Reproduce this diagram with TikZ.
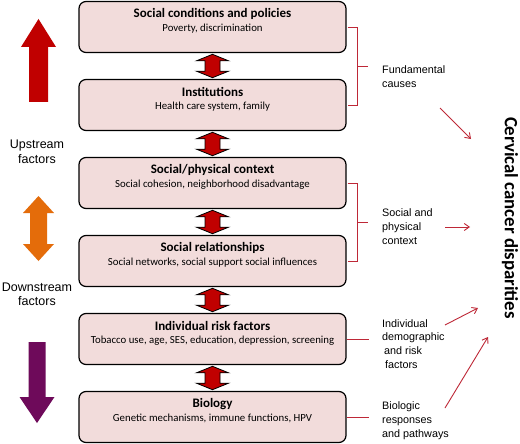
\documentclass[tikz,border=0pt]{standalone}
\usepackage{fontspec}
\setmainfont{Carlito}
\newfontfamily\arialf{Liberation Sans}
\usetikzlibrary{calc,arrows.meta}
\definecolor{boxfill}{RGB}{242,220,219}
\definecolor{darkred}{RGB}{192,0,0}
\definecolor{brk}{RGB}{190,40,55}
\definecolor{orng}{RGB}{228,108,10}
\definecolor{purp}{RGB}{110,10,90}
\newcommand{\dblarr}[2]{%
  \draw[dbl] let \p1=($(#1.south)+(0,1.2)$), \p2=($(#2.north)+(0,-1.2)$) in
    (\p1) -- (\x1+16pt,\y1-6.5pt) -- (\x1+7.5pt,\y1-6.5pt) -- (\x1+7.5pt,\y2+6.5pt) -- (\x1+16pt,\y2+6.5pt)
    -- (\p2) -- (\x1-16pt,\y2+6.5pt) -- (\x1-7.5pt,\y2+6.5pt) -- (\x1-7.5pt,\y1-6.5pt) -- (\x1-16pt,\y1-6.5pt) -- cycle;}
\begin{document}
\begin{tikzpicture}[x=1pt,y=-1pt,
  box/.style={draw, line width=1.2pt, fill=boxfill, rounded corners=7pt, minimum width=267pt, minimum height=51pt, inner sep=0pt},
  ttl/.style={font=\fontsize{13}{15}\selectfont\bfseries, inner sep=0pt},
  sub/.style={font=\fontsize{10.8}{13}\selectfont, inner sep=0pt},
  side/.style={font=\arialf\fontsize{10.8}{13.8}\selectfont, align=left, anchor=west, inner sep=0pt},
  lbl/.style={font=\arialf\fontsize{12.5}{14.5}\selectfont, align=center, inner sep=0pt},
  dbl/.style={fill=darkred, draw=black, line width=0.8pt, line join=miter},
  brkline/.style={draw=brk, line width=0.9pt},
  thinarr/.style={draw=brk, line width=0.9pt, -{Straight Barb[length=5pt,width=7pt]}}
]
\fill[white] (0,0) rectangle (520,444);
\useasboundingbox (0,0) rectangle (520,444);

% boxes
\node[box] (b1) at (212.5,27) {};
\node[box] (b2) at (212.5,105) {};
\node[box] (b3) at (212.5,183) {};
\node[box] (b4) at (212.5,261) {};
\node[box] (b5) at (212.5,339) {};
\node[box] (b6) at (212.5,417) {};

\node[ttl] (t1) at ($(b1.north)+(0,13)$) {Social conditions and policies};
\node[sub] (s1) at ($(b1.north)+(0,27.5)$) {Poverty, discrimination};
\node[ttl] (t2) at ($(b2.north)+(0,13)$) {Institutions};
\node[sub] (s2) at ($(b2.north)+(0,27.5)$) {Health care system, family};
\node[ttl] (t3) at ($(b3.north)+(0,13)$) {Social/physical context};
\node[sub] (s3) at ($(b3.north)+(0,27.5)$) {Social cohesion, neighborhood disadvantage};
\node[ttl] (t4) at ($(b4.north)+(0,13)$) {Social relationships};
\node[sub] (s4) at ($(b4.north)+(0,27.5)$) {Social networks, social support social influences};
\node[ttl] (t5) at ($(b5.north)+(0,13)$) {Individual risk factors};
\node[sub] (s5) at ($(b5.north)+(0,27.5)$) {Tobacco use, age, SES, education, depression, screening};
\node[ttl] (t6) at ($(b6.north)+(0,13)$) {Biology};
\node[sub] (s6) at ($(b6.north)+(0,27.5)$) {Genetic mechanisms, immune functions, HPV};

% double arrows between boxes
\dblarr{b1}{b2}
\dblarr{b2}{b3}
\dblarr{b3}{b4}
\dblarr{b4}{b5}
\dblarr{b5}{b6}

% left arrows
\fill[darkred] (38.5,19) -- (56,47) -- (48,47) -- (48,102) -- (29,102) -- (29,47) -- (21,47) -- cycle;
\fill[orng] (38.5,196) -- (54,213) -- (47,213) -- (47,244) -- (54,244) -- (38.5,261) -- (23,244) -- (30,244) -- (30,213) -- (23,213) -- cycle;
\fill[purp] (28.5,342) -- (45.5,342) -- (45.5,397) -- (54.5,397) -- (37,423) -- (19.5,397) -- (28.5,397) -- cycle;

\node[lbl] (up) at (37,152) {Upstream\\factors};
\node[lbl] (down) at (37,294.5) {Downstream\\factors};

% brackets
\draw[brkline] ($(b1.east)+(1,0)$) -| ($(b2.east)+(11,0)$) -- ($(b2.east)+(1,0)$);
\draw[brkline] ($(b1.east)!0.5!(b2.east)+(11,0)$) -- ++(10,0);
\draw[brkline] ($(b3.east)+(1,0)$) -| ($(b4.east)+(11,0)$) -- ($(b4.east)+(1,0)$);
\draw[brkline] ($(b3.east)!0.5!(b4.east)+(11,0)$) -- ++(10,0);
\draw[brkline] (b5.east) -- ++(22,0);
\draw[brkline] (b6.east) -- ++(22,0);

% side texts
\node[side] (fc) at (382,76.5) {Fundamental\\causes};
\node[side] (sp) at (382,226.5) {Social and\\physical\\context};
\node[side] (ind) at (382,344) {Individual\\demographic\\\hspace*{2pt}and risk\\\hspace*{3pt}factors};
\node[side] (bio) at (382,420.5) {Biologic\\responses\\and pathways};

% vertical title
\node[font=\fontsize{18.8}{22}\selectfont\bfseries, rotate=-90, inner sep=0pt] (ccd) at (510,218) {Cervical cancer disparities};

% thin arrows
\coordinate (fa1) at (440,108); \coordinate (fa2) at (471,139);
\coordinate (sa1) at (445,227); \coordinate (sa2) at (470,227);
\coordinate (ia1) at (445,325); \coordinate (ia2) at (478,308);
\coordinate (ba1) at (445,408); \coordinate (ba2) at (488,337);
\draw[thinarr] (fa1) -- (fa2);
\draw[thinarr] (sa1) -- (sa2);
\draw[thinarr] (ia1) -- (ia2);
\draw[thinarr] (ba1) -- (ba2);
\end{tikzpicture}
\end{document}
